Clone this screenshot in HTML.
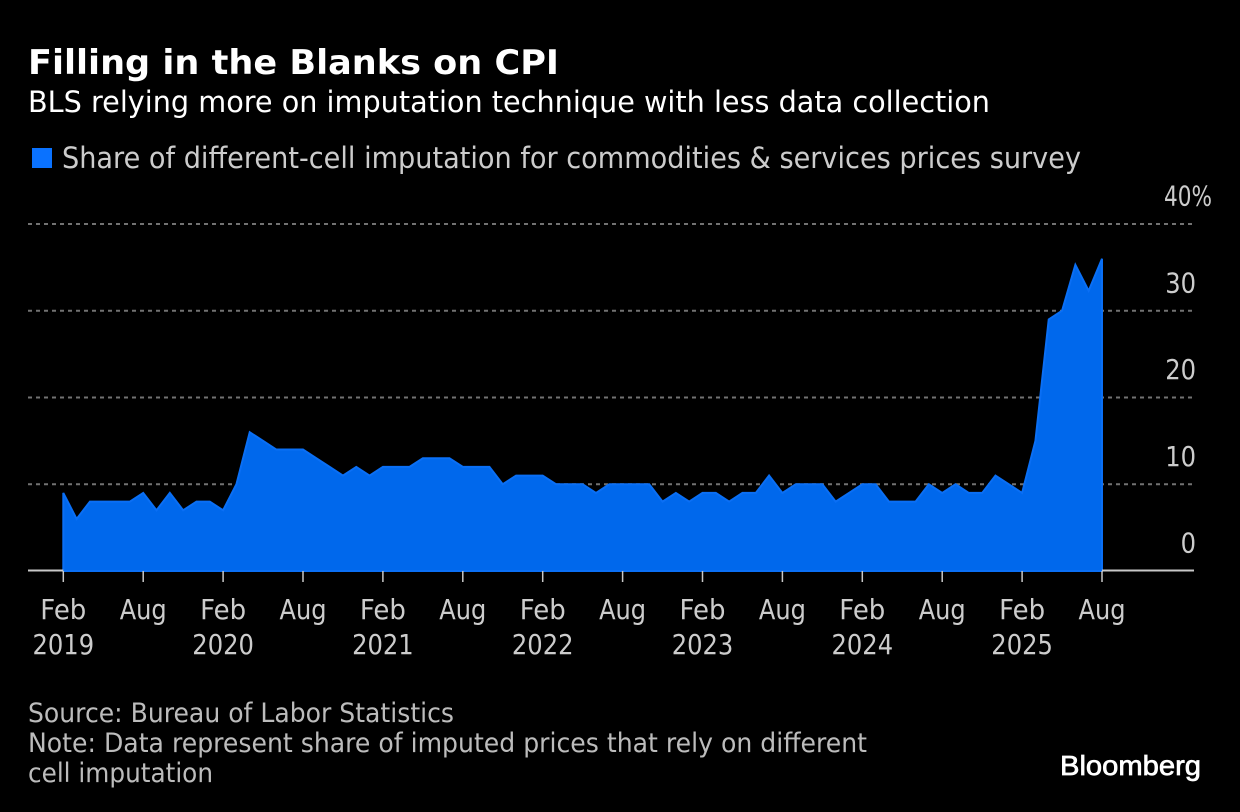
<!DOCTYPE html>
<html lang="en">
<head>
<meta charset="utf-8">
<title>Filling in the Blanks on CPI</title>
<style>
  html, body { margin: 0; padding: 0; background: #000; width: 1240px; height: 812px; overflow: hidden; }
  svg { display: block; }
  text { font-family: "DejaVu Sans", "Liberation Sans", sans-serif; }
</style>
</head>
<body>
<svg id="chart" width="1240" height="812" viewBox="0 0 1240 812" xmlns="http://www.w3.org/2000/svg">
  <rect x="0" y="0" width="1240" height="812" fill="#000"/>
  <text x="28" y="74" font-size="34" font-weight="700" fill="#fff" textLength="531" lengthAdjust="spacingAndGlyphs">Filling in the Blanks on CPI</text>
  <text x="28" y="112" font-size="29" fill="#fff" textLength="962" lengthAdjust="spacingAndGlyphs">BLS relying more on imputation technique with less data collection</text>
  <rect x="32" y="148" width="20" height="20" fill="#0a72ff"/>
  <text x="62" y="168" font-size="29" fill="#cccccc" textLength="1019" lengthAdjust="spacingAndGlyphs">Share of different-cell imputation for commodities &amp; services prices survey</text>
  <g id="grid"></g>
  <g id="area"></g>
  <g id="axes"></g>
  <text x="28" y="722" font-size="27" fill="#bcbcbc" textLength="426" lengthAdjust="spacingAndGlyphs">Source: Bureau of Labor Statistics</text>
  <text x="28" y="752" font-size="27" fill="#bcbcbc" textLength="839" lengthAdjust="spacingAndGlyphs">Note: Data represent share of imputed prices that rely on different</text>
  <text x="28" y="782" font-size="27" fill="#bcbcbc" textLength="185" lengthAdjust="spacingAndGlyphs">cell imputation</text>
  <text x="1060" y="775" font-size="28" font-weight="400" fill="#fff" stroke="#fff" stroke-width="0.7" style="font-family:'Liberation Sans',sans-serif" textLength="141" lengthAdjust="spacingAndGlyphs">Bloomberg</text>
</svg>
<script>
const imputationShare = [
  9, 6, 8, 8, 8, 8, 9, 7, 9, 7, 8, 8,
  7, 10, 16, 15, 14, 14, 14, 13, 12, 11, 12, 11,
  12, 12, 12, 13, 13, 13, 12, 12, 12, 10, 11, 11,
  11, 10, 10, 10, 9, 10, 10, 10, 10, 8, 9, 8,
  9, 9, 8, 9, 9, 11, 9, 10, 10, 10, 8, 9,
  10, 10, 8, 8, 8, 10, 9, 10, 9, 9, 11, 10,
  9, 15, 29, 30, 35.3, 32.3, 36
];
const xTickMonths = [0, 6, 12, 18, 24, 30, 36, 42, 48, 54, 60, 66, 72, 78];
const xTickMonthLabels = ["Feb", "Aug", "Feb", "Aug", "Feb", "Aug", "Feb", "Aug", "Feb", "Aug", "Feb", "Aug", "Feb", "Aug"];
const xTickYearLabels = ["2019", "", "2020", "", "2021", "", "2022", "", "2023", "", "2024", "", "2025", ""];
const yTickValues = [0, 10, 20, 30, 40];
const yTickLabels = ["0", "10", "20", "30", "40%"];

const NS = "http://www.w3.org/2000/svg";
const xLeft = 63.3, xRight = 1102, yZero = 571, yTop = 224;
const plotLeft = 28, plotRight = 1194;
function xScale(i) { return xLeft + (xRight - xLeft) * i / 78; }
function yScale(v) { return yZero + (yTop - yZero) * v / 40; }
function labelWidth(s) {
  if (s === "Feb") return 46;
  if (s === "Aug") return 47;
  if (s.indexOf("%") >= 0) return 48;
  return s.length * 15.4;
}

const gridGroup = document.getElementById("grid");
const areaGroup = document.getElementById("area");
const axesGroup = document.getElementById("axes");

yTickValues.forEach(function (v, idx) {
  if (v !== 0) {
    const line = document.createElementNS(NS, "line");
    
    
    line.setAttribute("x1", plotLeft);
    line.setAttribute("x2", plotRight);
    line.setAttribute("y1", yScale(v));
    line.setAttribute("y2", yScale(v));
    line.setAttribute("stroke", "#727272");
    line.setAttribute("stroke-width", "2");
    line.setAttribute("stroke-dasharray", "4 4");
    gridGroup.appendChild(line);
  }
  const label = document.createElementNS(NS, "text");
  const text = yTickLabels[idx];
  const w = labelWidth(text);
  const right = text.indexOf("%") >= 0 ? 1212 : 1196;
  
  
  label.setAttribute("x", right - w);
  label.setAttribute("y", yScale(v) - 18.5);
  label.setAttribute("font-size", "28");
  label.setAttribute("fill", "#cccccc");
  label.setAttribute("textLength", w);
  label.setAttribute("lengthAdjust", "spacingAndGlyphs");
  label.textContent = text;
  axesGroup.appendChild(label);
});

let pathData = "M" + xScale(0) + " " + yScale(0);
imputationShare.forEach(function (v, i) {
  pathData += " L" + xScale(i).toFixed(2) + " " + yScale(v).toFixed(2);
});
pathData += " L" + xScale(imputationShare.length - 1) + " " + yScale(0) + " Z";
const areaPath = document.createElementNS(NS, "path");


areaPath.setAttribute("d", pathData);
areaPath.setAttribute("fill", "#0068ec");
areaPath.setAttribute("stroke", "#0a6ff5");
areaPath.setAttribute("stroke-width", "2");
areaPath.setAttribute("stroke-linejoin", "miter");
areaGroup.appendChild(areaPath);

function axisSegment(x1, x2) {
  const seg = document.createElementNS(NS, "line");
  
  
  seg.setAttribute("x1", x1);
  seg.setAttribute("x2", x2);
  seg.setAttribute("y1", yZero - 0.5);
  seg.setAttribute("y2", yZero - 0.5);
  seg.setAttribute("stroke", "#c8c8c8");
  seg.setAttribute("stroke-width", "2");
  axesGroup.appendChild(seg);
}
axisSegment(plotLeft, xScale(0));
axisSegment(xScale(78), plotRight);

function addCenteredLabel(name, s, x, y) {
  const w = labelWidth(s);
  const el = document.createElementNS(NS, "text");
  
  
  el.setAttribute("x", x - w / 2);
  el.setAttribute("y", y);
  el.setAttribute("font-size", "28");
  el.setAttribute("fill", "#cccccc");
  el.setAttribute("textLength", w);
  el.setAttribute("lengthAdjust", "spacingAndGlyphs");
  el.textContent = s;
  axesGroup.appendChild(el);
}

xTickMonths.forEach(function (m, idx) {
  const x = xScale(m);
  const tick = document.createElementNS(NS, "line");
  
  
  tick.setAttribute("x1", x);
  tick.setAttribute("x2", x);
  tick.setAttribute("y1", yZero);
  tick.setAttribute("y2", yZero + 11);
  tick.setAttribute("stroke", "#c8c8c8");
  tick.setAttribute("stroke-width", "1.5");
  axesGroup.appendChild(tick);

  addCenteredLabel('x-tick-month-label', xTickMonthLabels[idx], x, 619);
  if (xTickYearLabels[idx]) {
    addCenteredLabel('x-tick-year-label', xTickYearLabels[idx], x, 654);
  }
});
</script>
</body>
</html>
